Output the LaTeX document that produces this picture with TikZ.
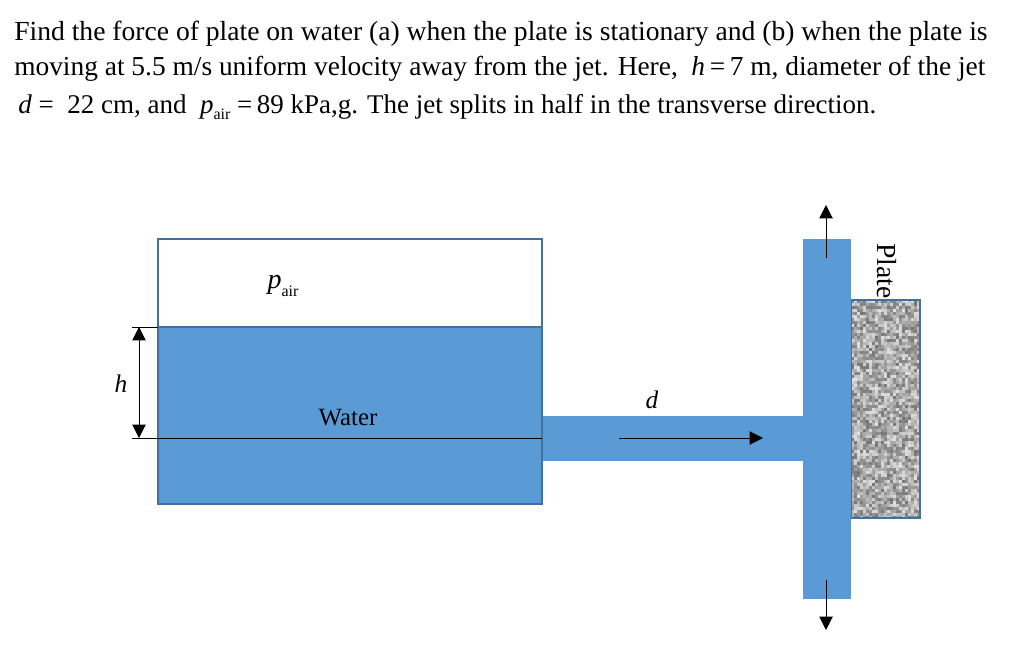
\documentclass[tikz,border=0pt]{standalone}
\usepackage{fontspec}
\setmainfont{Liberation Serif}
\usetikzlibrary{arrows.meta}
\usetikzlibrary{positioning}
\definecolor{waterblue}{HTML}{5B9BD5}
\definecolor{edgeblue}{HTML}{41719C}
\tikzset{
  problemline/.style={anchor=base west,inner sep=0pt,font=\fontsize{20.7}{24}\selectfont},
  figlabel/.style={inner sep=0pt,font=\fontsize{18.6}{22}\selectfont},
  tankline/.style={draw=edgeblue,line width=2.2pt},
  water/.style={fill=waterblue,draw=none},
  flow/.style={-{Triangle[length=10pt,width=10pt]},line width=0.75pt},
}
\newcommand{\pair}{\textit{p}\raisebox{-0.55ex}{\fontsize{12}{13}\selectfont air}}
\begin{document}
\begin{tikzpicture}[x=0.75pt,y=-0.75pt]
\useasboundingbox (0,0) rectangle (1024,646);
\fill[white] (0,0) rectangle (1024,646);

% question text
\node[problemline] (lineA) at (14,40) {Find the force of plate on water (a) when the plate is stationary and (b) when the plate is};
\node[problemline,font=\fontsize{20.55}{24}\selectfont] (lineB) at (14,75) {moving at 5.5 m/s uniform velocity away from the jet. Here, \ \textit{h}\,=\,7 m, diameter of the jet};
\node[problemline,font=\fontsize{20.25}{24}\selectfont] (lineC) at (18,113) {\textit{d} = \ 22 cm, and \ \pair\ =\,89 kPa,g. The jet splits in half in the transverse direction.};

% plate with speckles
\pgfmathsetseed{4711}
\fill[gray!30] (851,300) rectangle (920,518);
\foreach \i in {0,...,22}{
  \foreach \j in {0,...,72}{
    \pgfmathsetmacro{\shade}{12+rnd*42}
    \fill[black!\shade!white] (851+3*\i,300+3*\j) rectangle +(3,3);
  }
}
\draw[tankline] (851,300) rectangle (920,518);

% water
\fill[water] (158,327) rectangle (542,504);
\fill[water] (542,416) rectangle (803,461);
\fill[water] (803,239) rectangle (851,599);
\draw[tankline] (158,239) rectangle (542,504);
\draw[tankline] (158,327) -- (542,327);

% depth marks
\coordinate (topL) at (132,327);
\coordinate (topR) at (158,327);
\coordinate (botL) at (132,438);
\coordinate (botR) at (542,438);
\coordinate (hTop) at (139,327);
\coordinate (hBot) at (139,438);
\draw[line width=0.75pt] (topL) -- (topR);
\draw[line width=0.75pt] (botL) -- (botR);
\draw[{Triangle[length=10pt,width=10pt]}-{Triangle[length=10pt,width=10pt]},line width=0.75pt] (hTop) -- (hBot);

% flow arrows
\coordinate (jetA) at (619,438);
\coordinate (jetB) at (763,438);
\coordinate (upA) at (826,258);
\coordinate (upB) at (826,205);
\coordinate (downA) at (826,580);
\coordinate (downB) at (826,630);
\draw[flow] (jetA) -- (jetB);
\draw[flow] (upA) -- (upB);
\draw[flow] (downA) -- (downB);

% labels
\node[figlabel,font=\fontsize{19}{22}\selectfont] (labelH) at (121,384) {\textit{h}};
\node[figlabel,font=\fontsize{19}{22}\selectfont] (labelD) at (652,400) {\textit{d}};
\node[figlabel] (labelWater) at (348,418) {Water};
\node[figlabel,font=\fontsize{21}{24}\selectfont] (labelAir) at (283,286) {\pair};
\node[figlabel,rotate=-90,font=\fontsize{20.7}{22}\selectfont] (labelPlate) at (887,271) {Plate};
\end{tikzpicture}
\end{document}
